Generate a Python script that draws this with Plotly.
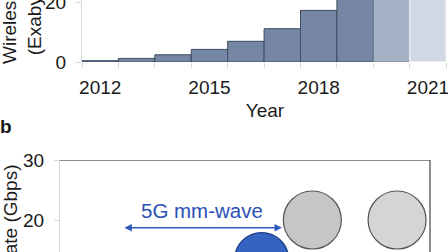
import plotly.graph_objects as go

# Panel a: wireless data traffic
years = [2012, 2013, 2014, 2015, 2016, 2017, 2018, 2019, 2020, 2021]
traffic = [0.45, 1.2, 2.4, 4.2, 6.9, 11.1, 17.2, 24.9, 34.6, 48.3]
bar_colors = ["#7587a4"] * 8 + ["#a5b1c4", "#d1d8e3"]
bar_lines = ["#3e4b60"] * 8 + ["#6e7d95", "#ffffff"]
year_ticks = [2012, 2015, 2018, 2021]

# Panel b: data rate bubbles
tech_x = [5.45, 6.82, 9.11]
tech_rate = [13.4, 20.0, 20.0]
tech_fill = ["#3563c2", "#c6c6c6", "#d5d5d5"]
tech_line = ["#1f3f8a", "#555555", "#555555"]
tech_size = [54, 58, 58]
rate_ticks = [10, 20, 30]

FONT = "Liberation Sans, Arial, sans-serif"
FS = 19

fig = go.Figure()
fig.add_trace(go.Bar(
    x=years, y=traffic, width=1.0,
    marker=dict(color=bar_colors, line=dict(color=bar_lines, width=1)),
    xaxis="x", yaxis="y", showlegend=False, hoverinfo="skip",
))
fig.add_trace(go.Scatter(
    x=tech_x, y=tech_rate, mode="markers",
    marker=dict(size=tech_size, color=tech_fill, opacity=1,
                line=dict(color=tech_line, width=1.2)),
    xaxis="x2", yaxis="y2", showlegend=False, cliponaxis=True, hoverinfo="skip",
))

fig.update_layout(
    width=448, height=252,
    margin=dict(l=0, r=0, t=0, b=0),
    paper_bgcolor="white", plot_bgcolor="white",
    font=dict(family=FONT, size=FS, color="#1a1a1a"),
    bargap=0,
    hovermode=False,
    xaxis=dict(
        domain=[82 / 448, 1], anchor="y", automargin=False,
        range=[2011.5, 2021.55],
        tickmode="array", tickvals=year_ticks, ticks="",
        ticklabeloverflow="allow",
        tickfont=dict(size=FS),
        showgrid=False, zeroline=False, showline=False,
        minor=dict(tickmode="linear", tick0=2011.5, dtick=1, ticks="outside",
                   ticklen=5, tickcolor="#d6d6d6", showgrid=False),
        ticklabelstandoff=12,
        title=dict(text="Year", standoff=6, font=dict(size=FS)),
    ),
    yaxis=dict(
        domain=[1 - 62 / 252, 1], anchor="x", automargin=False,
        range=[0, 62 / 3],
        tickvals=[0, 20], ticks="outside", ticklen=5, tickcolor="#d6d6d6",
        ticklabeloverflow="allow",
        tickfont=dict(size=FS),
        showline=True, linecolor="#d9d9d9", linewidth=1,
        showgrid=False, zeroline=False,
        ticklabelstandoff=6,
    ),
    xaxis2=dict(
        domain=[60 / 448, 430 / 448], anchor="y2", automargin=False,
        range=[0, 10], visible=False,
    ),
    yaxis2=dict(
        domain=[0, 92 / 252], anchor="x2", automargin=False,
        range=[30 - 92 / 6, 30],
        tickvals=rate_ticks, ticks="outside", ticklen=5, tickcolor="#d6d6d6",
        ticklabeloverflow="allow",
        tickfont=dict(size=FS),
        showline=True, linecolor="#d9d9d9", linewidth=1,
        showgrid=False, zeroline=False,
        ticklabelstandoff=6,
    ),
    shapes=[
        dict(type="line", xref="x2 domain", yref="y2", x0=0, x1=1, y0=30, y1=30,
             line=dict(color="#8c8c8c", width=2)),
        dict(type="line", xref="x2 domain", yref="y2", x0=1, x1=1, y0=30, y1=10,
             line=dict(color="#444444", width=1.2)),
    ],
    annotations=[
        dict(text="Wireless data traffic<br>(Exabytes/month)", textangle=-90,
             xref="paper", yref="paper", x=22 / 448, y=1 + 19 / 252,
             xanchor="center", yanchor="middle", showarrow=False,
             font=dict(size=FS, color="#1a1a1a")),
        dict(text="Data rate (Gbps)", textangle=-90,
             xref="paper", yref="paper", x=10 / 448, y=1 - 235 / 252,
             xanchor="center", yanchor="middle", showarrow=False,
             font=dict(size=FS, color="#1a1a1a")),
        dict(text="<b>b</b>", xref="paper", yref="paper", x=0, y=1 - 126 / 252,
             xanchor="left", yanchor="middle", showarrow=False, xshift=-2,
             font=dict(size=FS, color="#1a1a1a")),
        dict(text="5G mm-wave", xref="x2", yref="y2", x=3.84, y=21.6,
             xanchor="center", yanchor="middle", showarrow=False,
             font=dict(size=20.5, color="#2a4fb5")),
        dict(text="", xref="x2", yref="y2", axref="x2", ayref="y2",
             x=6.0, y=18.7, ax=1.7, ay=18.7,
             showarrow=True, arrowhead=2, startarrowhead=2, arrowside="end+start",
             arrowsize=1, arrowwidth=1.5, arrowcolor="#2f5bbf", standoff=0, startstandoff=0),
    ],
)

fig.write_html(
    "out.html",
    config={"displayModeBar": False, "staticPlot": True},
    post_script="document.body.style.margin='0';document.body.style.overflow='hidden';",
)
